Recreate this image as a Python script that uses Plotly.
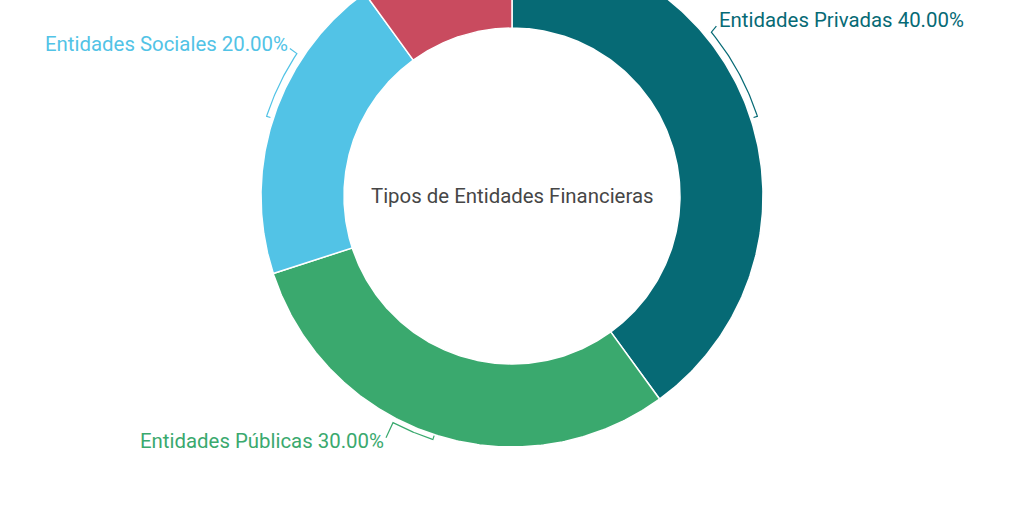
import numpy as np
import plotly.graph_objects as go

# ---- data ----
categories = ["Entidades Privadas", "Entidades Públicas", "Entidades Sociales", "Otras Entidades"]
values = [40, 30, 20, 10]
colors = ["#066a75", "#3aa96e", "#52c3e6", "#c94b5f"]
center_title = "Tipos de Entidades Financieras"

# ---- layout / style parameters (pixel space) ----
W, H = 1024, 512
CX, CY = 512, 196
R_OUT, R_IN = 251, 168
bracket_r = [258, 256, 258, 258]
bracket_span = [-21.4, 9.7, 15.5, -8.0]       # degrees from mid-angle toward label
connector_off = [(5, -6), (-7, 15), (-7, -5), (-6, -6)]
label_off = [(6, -12), (-7, 18), (-7, -10), (-7, -12)]
label_anchor = ["left", "right", "right", "right"]
FONT_SIZE = 20.4


def pt(r, deg):
    a = np.radians(deg)
    return CX + r * np.sin(a), CY - r * np.cos(a)


total = float(sum(values))
fig = go.Figure()

start = 0.0
mids = []
for name, v, c in zip(categories, values, colors):
    span = 360.0 * v / total
    a = np.linspace(start, start + span, 200)
    xo, yo = pt(R_OUT, a)
    xi, yi = pt(R_IN, a[::-1])
    xs = np.concatenate([xo, xi, xo[:1]])
    ys = np.concatenate([yo, yi, yo[:1]])
    fig.add_trace(go.Scatter(x=xs, y=ys, fill="toself", fillcolor=c, mode="lines",
                             line=dict(color="white", width=1.5), hoverinfo="text",
                             text=f"{name}: {v}", showlegend=False))
    mids.append(start + span / 2)
    start += span

# label brackets + labels
for i, (name, v, c) in enumerate(zip(categories, values, colors)):
    m = mids[i]
    rb = bracket_r[i]
    end = m + bracket_span[i]
    arc = np.linspace(m, end, 40)
    ax, ay = pt(rb, arc)
    tx, ty = pt(rb - 4, m)
    ex, ey = ax[-1], ay[-1]
    cx_, cy_ = ex + connector_off[i][0], ey + connector_off[i][1]
    xs = np.concatenate([[tx], ax, [cx_]])
    ys = np.concatenate([[ty], ay, [cy_]])
    fig.add_trace(go.Scatter(x=xs, y=ys, mode="lines", line=dict(color=c, width=1.2),
                             hoverinfo="skip", showlegend=False))
    pct = 100.0 * v / total
    fig.add_annotation(x=ex + label_off[i][0], y=ey + label_off[i][1], xref="x", yref="y",
                       text=f"{name} {pct:.2f}%", showarrow=False,
                       xanchor=label_anchor[i], yanchor="middle",
                       font=dict(family="Roboto", size=FONT_SIZE, color=c))

fig.add_annotation(x=CX, y=CY, xref="x", yref="y", text=center_title, showarrow=False,
                   xanchor="center", yanchor="middle",
                   font=dict(family="Roboto", size=FONT_SIZE, color="#464646"))

fig.update_layout(
    width=W, height=H, margin=dict(l=0, r=0, t=0, b=0),
    paper_bgcolor="white", plot_bgcolor="white",
    xaxis=dict(range=[0, W], visible=False, fixedrange=True),
    yaxis=dict(range=[H, 0], visible=False, fixedrange=True),
)

fig.write_html("out.html", config={"displayModeBar": False},
               post_script="document.body.style.margin='0';document.body.style.overflow='hidden';")
